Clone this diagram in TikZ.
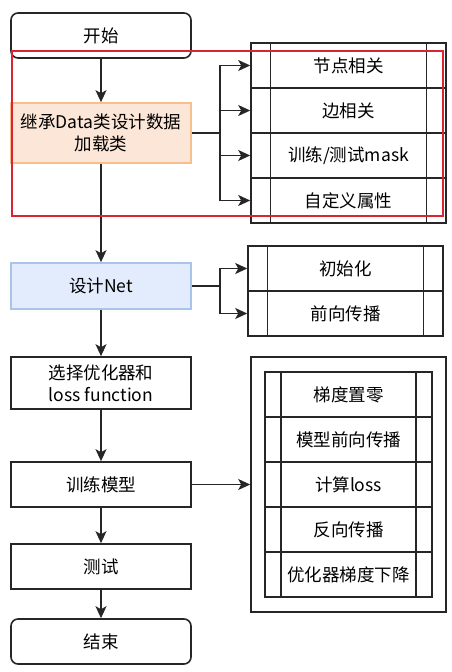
\documentclass[tikz,border=0pt]{standalone}
\usepackage{fontspec}
\setmainfont{Noto Sans CJK SC}
\usepackage{xcolor}
\usepackage{tikz}
\usetikzlibrary{arrows.meta}

\definecolor{datafill}{HTML}{FCE6D8}
\definecolor{dataline}{HTML}{F7BE8E}
\definecolor{netfill}{HTML}{E2ECFC}
\definecolor{netline}{HTML}{A9C4EB}
\definecolor{markred}{HTML}{DC2430}

\begin{document}
\begin{tikzpicture}[x=1pt, y=-1pt,
		every node/.style={font=\fontsize{17.5}{22}\selectfont, inner sep=0pt, align=center},
		line/.style={line width=1.6pt, draw=black!85},
		arr/.style={line, -{Stealth[length=12pt, width=11pt, inset=3pt]}},
		terminal/.style={line, rounded corners=7pt, minimum width=180pt, minimum height=45pt},
		proc/.style={line, minimum width=180pt},
		row/.style={line, minimum height=45pt,
			path picture={\draw[line width=1.6pt, black!85]
				([xshift=#1]path picture bounding box.north west) -- ([xshift=#1]path picture bounding box.south west)
				([xshift=-#1]path picture bounding box.north east) -- ([xshift=-#1]path picture bounding box.south east);}},
		row/.default=19.5pt
		]
		\useasboundingbox (0,0) rectangle (452,672);
		
		% main flow
		\node[terminal] (start) at (101,35.5) {开始};
		\node[proc, minimum height=60pt, fill=datafill, draw=dataline] (data) at (101,133) {继承Data类设计数据\\加载类};
		\node[proc, minimum height=46pt, fill=netfill, draw=netline] (net) at (101,286) {设计Net};
		\node[proc, minimum height=52pt] (optim) at (101,383) {选择优化器和\\loss function};
		\node[proc, minimum height=45pt] (train) at (101,484.5) {训练模型};
		\node[proc, minimum height=45pt] (test) at (101,566.5) {测试};
		\node[terminal] (stop) at (101,641.5) {结束};
		
		% data loader parts
		\node[row, minimum width=195pt] (node) at (348.5,65.5) {节点相关};
		\node[row, minimum width=195pt] (edge) at (348.5,110.5) {边相关};
		\node[row, minimum width=195pt] (mask) at (348.5,155.5) {训练/测试mask};
		\node[row, minimum width=195pt] (attr) at (348.5,200.5) {自定义属性};
		
		% net parts
		\node[row, minimum width=195pt] (init) at (345.5,268.5) {初始化};
		\node[row, minimum width=195pt] (fwd) at (345.5,313.5) {前向传播};
		
		% training loop
		\node[line, minimum width=195pt, minimum height=255pt] (loop) at (348.5,484.5) {};
		\node[row=16pt, minimum width=167pt] (zero) at (348.5,394.5) {梯度置零};
		\node[row=16pt, minimum width=167pt] (mfwd) at (348.5,439.5) {模型前向传播};
		\node[row=16pt, minimum width=167pt] (loss) at (348.5,484.5) {计算loss};
		\node[row=16pt, minimum width=167pt] (back) at (348.5,529.5) {反向传播};
		\node[row=16pt, minimum width=167pt] (step) at (348.5,574.5) {优化器梯度下降};
		
		\coordinate (fork1) at (220,133);
		\coordinate (fork2) at (220,286);
		
		\draw[arr] (start) -- (data);
		\draw[arr] (data) -- (net);
		\draw[arr] (net) -- (optim);
		\draw[arr] (optim) -- (train);
		\draw[arr] (train) -- (test);
		\draw[arr] (test) -- (stop);
		
		\draw[line] (data.east) -- (fork1);
		\draw[arr] (fork1) |- (node.west);
		\draw[arr] (fork1) |- (edge.west);
		\draw[arr] (fork1) |- (mask.west);
		\draw[arr] (fork1) |- (attr.west);
		
		\draw[line] (net.east) -- (fork2);
		\draw[arr] (fork2) |- (init.west);
		\draw[arr] (fork2) |- (fwd.west);
		
		\draw[arr] (train.east) -- (loop.west);
		
		% highlight
		\draw[markred, line width=2.6pt] (12,51) rectangle (443,216);
\end{tikzpicture}
\end{document}
